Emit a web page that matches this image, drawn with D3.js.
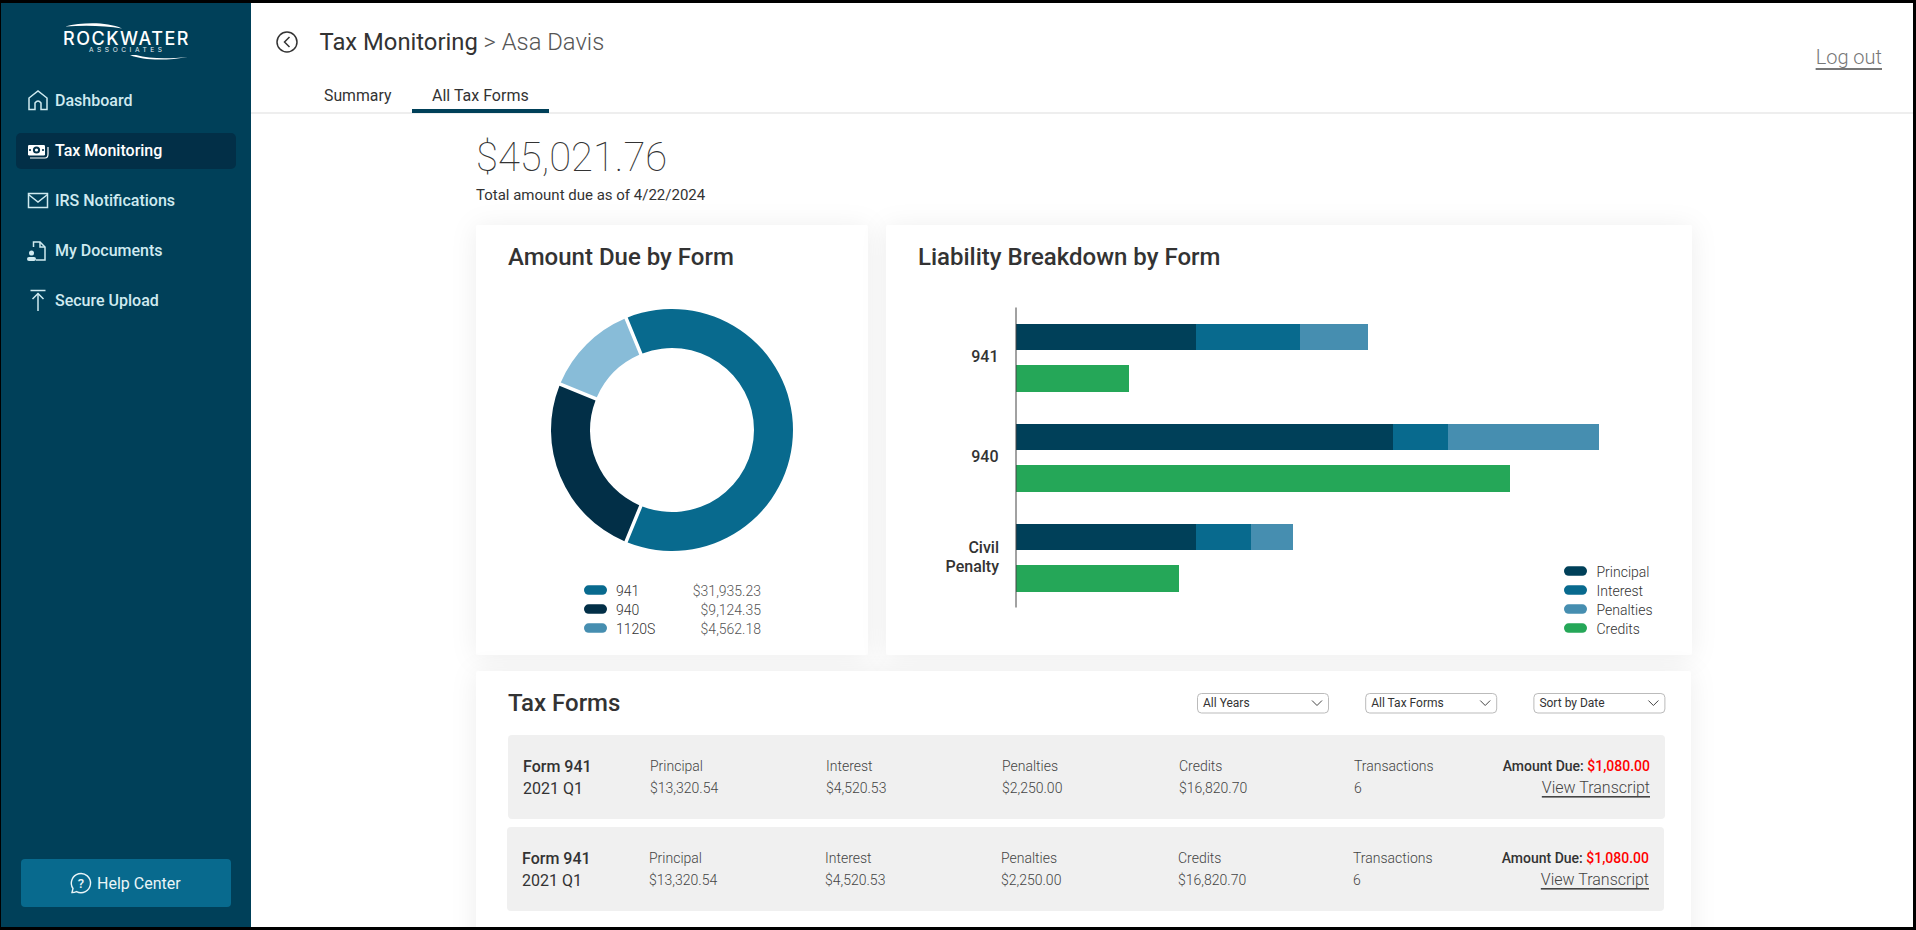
<!DOCTYPE html>
<html><head><meta charset="utf-8"><title>Tax Monitoring</title>
<script src="https://cdnjs.cloudflare.com/ajax/libs/d3/7.8.5/d3.min.js"></script>
<style>
html,body{margin:0;padding:0;background:#fff;overflow:hidden}
svg{display:block}
text{font-family:Roboto,"Liberation Sans",sans-serif}
</style></head><body><svg id="page" width="1916" height="930"></svg>
<script>
// ---- data ----
const navLabels = ["Dashboard","Tax Monitoring","IRS Notifications","My Documents","Secure Upload"];
const donutForms = ["941","940","1120S"];
const donutShares = [62.4,25.0,12.6];
const donutLegendForms = ["941","940","1120S"];
const donutLegendValues = ["$31,935.23","$9,124.35","$4,562.18"];
const barForms = ["941","940","Civil Penalty"];
const principal = [18.05,37.75,18.05];
const interest = [10.4,5.5,5.5];
const penalties = [6.8,15.1,4.2];
const credits = [11.35,49.45,16.35];
const stackNames = ["Principal","Interest","Penalties"];
const legendNames = ["Principal","Interest","Penalties","Credits"];
const filters = ["All Years","All Tax Forms","Sort by Date"];
const rowColumns = ["Principal","Interest","Penalties","Credits","Transactions"];
const rowValues = ["$13,320.54","$4,520.53","$2,250.00","$16,820.70","6"];
const rowForms = ["Form 941","Form 941"];
const rowPeriods = ["2021 Q1","2021 Q1"];
const rowDue = ["$1,080.00","$1,080.00"];

// ---- palette ----
const NAVY="#004059",DEEP="#022f47",TEAL="#086a8e",STEEL="#468eb0",SKY="#88bcd8",GREEN="#25a758",INK="#333333";
const svg=d3.select("#page");
const defs=svg.append("defs");
const sh=defs.append("filter").attr("id","sh").attr("x","-15%").attr("y","-15%").attr("width","130%").attr("height","130%");
sh.append("feDropShadow").attr("dx",0).attr("dy",2).attr("stdDeviation",13).attr("flood-color","#000").attr("flood-opacity",0.07);
function txt(g,x,y,s,o={}){return g.append("text").attr("x",x).attr("y",y).attr("dominant-baseline","central")
  .attr("font-size",o.size||14).attr("font-weight",o.weight||400).attr("fill",o.fill||INK)
  .attr("text-anchor",o.anchor||"start").text(s);}

// ---- sidebar ----
const side=svg.append("g");
side.append("rect").attr("width",251).attr("height",930).attr("fill",NAVY);
side.append("rect").attr("x",16).attr("y",133).attr("width",220).attr("height",36).attr("rx",5).attr("fill",DEEP);
// logo
txt(side,63,38.5,"ROCKWATER",{size:18,weight:500,fill:"#fff"}).style("font-family","Inter").attr("textLength",125.5).attr("lengthAdjust","spacing");
txt(side,89,49.5,"ASSOCIATES",{size:6.6,weight:400,fill:"#e4edf1"}).style("font-family","Inter").attr("textLength",73).attr("lengthAdjust","spacing");
side.append("path").attr("d","M65 26.5 C82 22.5 106 21.5 122 28.5 C105 25.5 85 25 65 26.5Z").attr("fill","#fff");
side.append("path").attr("d","M130 55 C144 61 168 60.5 188 57 C168 59 150 59 136 55Z").attr("fill","#fff");
// nav
const NAVC="#cfeaf0";
const navG=side.selectAll("g.nav").data(navLabels).join("g").attr("class","nav")
  .attr("transform",(d,i)=>`translate(0,${100.5+i*50})`);
navG.append("text").attr("x",55).attr("y",0).attr("dominant-baseline","central").attr("font-size",16)
  .attr("font-weight",500).attr("fill",(d,i)=>i===1?"#fff":NAVC).text(d=>d);
const icon=(i,d,extra)=>{const g=side.append("g").attr("transform",`translate(38,${100+i*50})`).attr("fill","none").attr("stroke",NAVC).attr("stroke-width",1.5);
  d.forEach(p=>g.append("path").attr("d",p));if(extra)extra(g);};
icon(0,["M-9 9.5 V-2 L0 -9 L9 -2 V9.5 H3 V3 Q0 -1 -3 3 V9.5 Z"]);
icon(1,[],g=>{
  g.append("rect").attr("x",-10).attr("y",-5).attr("width",17).attr("height",10.5).attr("rx",1.2).attr("fill","#fff").attr("stroke","none");
  g.append("circle").attr("cx",-1.5).attr("cy",0).attr("r",3.6).attr("fill",DEEP).attr("stroke","none");
  g.append("circle").attr("cx",-1.5).attr("cy",0).attr("r",1.6).attr("fill","#fff").attr("stroke","none");
  g.selectAll("circle.c").data([-8,5]).join("circle").attr("class","c").attr("cx",d=>d).attr("cy",0).attr("r",1.1).attr("fill",DEEP).attr("stroke","none");
  g.append("path").attr("d","M-8 8 H7 Q10 8 10 4 V-3").attr("stroke","#fff").attr("stroke-width",1.2);});
icon(2,["M-9.5 -6.5 H9.5 V7.5 H-9.5 Z","M-9.5 -5.5 L0 2 L9.5 -5.5"]);
icon(3,["M-4.5 -3 V-8 H2 L7 -3 V10 H-2","M2 -8 V-3 H7"],g=>{g.append("circle").attr("cx",-6.5).attr("cy",3).attr("r",2.5).attr("fill",NAVC).attr("stroke","none");
  g.append("rect").attr("x",-11).attr("y",7).attr("width",9).attr("height",4).attr("rx",2).attr("fill",NAVC).attr("stroke","none");});
icon(4,["M-7.5 -9.5 H7.5","M0 11 V-6.5","M-5.5 -1 L0 -6.5 L5.5 -1"]);
// help centre
side.append("rect").attr("x",21).attr("y",859).attr("width",210).attr("height",48).attr("rx",4).attr("fill",TEAL);
const hc=side.append("g").attr("transform","translate(81,883)");
hc.append("path").attr("d","M-9 9.5 L-8 5.5 A9.6 9.6 0 1 1 -4.5 8.6 Q-7 9.6 -9 9.5Z").attr("fill","none").attr("stroke","#eaf5f8").attr("stroke-width",1.4);
txt(hc,0,0,"?",{size:13,weight:500,fill:"#eaf5f8",anchor:"middle"});
txt(side,97,883,"Help Center",{size:16,fill:"#eaf5f8"});

// ---- header ----
const head=svg.append("g");
head.append("rect").attr("x",251).attr("y",112).attr("width",1665).attr("height",2).attr("fill","#eeeeee");
head.append("circle").attr("cx",287).attr("cy",42).attr("r",10).attr("fill","none").attr("stroke","#333").attr("stroke-width",1.5);
head.append("path").attr("d","M289.5 37 L284.5 42 L289.5 47").attr("fill","none").attr("stroke","#333").attr("stroke-width",1.5);
const ttl=txt(head,319.5,42,"",{size:23.8,fill:"#333"});
ttl.append("tspan").text("Tax Monitoring");
ttl.append("tspan").attr("font-weight",300).attr("fill","#555").text(" > Asa Davis");
txt(head,324,95,"Summary",{size:15.8,weight:400,fill:"#333"});
txt(head,432,95,"All Tax Forms",{size:16,weight:400,fill:"#333"});
head.append("rect").attr("x",412).attr("y",109).attr("width",137).attr("height",4).attr("fill",NAVY);
txt(head,1882,57,"Log out",{size:20,weight:300,fill:"#777",anchor:"end"}).attr("text-decoration","underline");
txt(head,476,157,"$45,021.76",{size:40,weight:100,fill:"#333"});
txt(head,476,194.5,"Total amount due as of 4/22/2024",{size:15,weight:400,fill:"#333"});

// ---- cards ----
const cards=svg.append("g");
[[476,225,392,430],[886,225,806,430],[476,671,1215,290]].forEach(c=>{
  cards.append("rect").attr("x",c[0]).attr("y",c[1]).attr("width",c[2]).attr("height",c[3]).attr("rx",3)
   .attr("fill","#fff").attr("filter","url(#sh)");});
txt(cards,508,257,"Amount Due by Form",{size:24,weight:500,fill:"#333"});
txt(cards,918,257,"Liability Breakdown by Form",{size:24,weight:500,fill:"#333"});
txt(cards,508,703,"Tax Forms",{size:24,weight:500,fill:"#333"});

// ---- donut ----
const deg=Math.PI/180;
const donutColor=d3.scaleOrdinal().domain(donutForms).range([TEAL,DEEP,SKY]);
const pie=d3.pie().sort(null).value(d=>d.v).startAngle(-22.3*deg).endAngle(337.7*deg);
const arc=d3.arc().innerRadius(82).outerRadius(121).padRadius(121).padAngle(3.5/121);
svg.append("g").attr("transform","translate(672,430)").selectAll("path")
  .data(pie(donutForms.map((f,i)=>({f,v:donutShares[i]})))).join("path")
  .attr("d",arc).attr("fill",d=>donutColor(d.data.f));
const dl=svg.append("g").selectAll("g").data(donutLegendForms).join("g")
  .attr("transform",(d,i)=>`translate(584,${590+i*19})`);
const dlColor=[TEAL,DEEP,STEEL];
dl.append("rect").attr("y",-4.7).attr("width",23).attr("height",9.5).attr("rx",4.7).attr("fill",(d,i)=>dlColor[i]);
dl.append("text").attr("x",32).attr("y",.8).attr("dominant-baseline","central").attr("font-size",14).attr("font-weight",300).attr("fill","#333").text(d=>d);
dl.append("text").attr("x",177).attr("y",.8).attr("text-anchor","end").attr("dominant-baseline","central").attr("font-size",14).attr("font-weight",300).attr("fill","#555").text((d,i)=>donutLegendValues[i]);

// ---- bars ----
const x=d3.scaleLinear().domain([0,60]).range([1015.5,1615.5]);
const y=d3.scaleBand().domain(barForms).range([307,607]);
const rowY=d3.scaleOrdinal().domain(["stack","credit"]).range([17,58]);
const rowH=d3.scaleOrdinal().domain(["stack","credit"]).range([26,27]);
const stack=d3.stack().keys(stackNames)(barForms.map((f,i)=>({form:f,Principal:principal[i],Interest:interest[i],Penalties:penalties[i]})));
const barColor=d3.scaleOrdinal().domain(legendNames).range([NAVY,TEAL,STEEL,GREEN]);
const bars=svg.append("g").attr("shape-rendering","crispEdges");
bars.selectAll("g").data(stack).join("g").attr("fill",s=>barColor(s.key))
  .selectAll("rect").data(s=>s).join("rect")
  .attr("x",d=>x(d[0])).attr("width",d=>x(d[1])-x(d[0]))
  .attr("y",d=>y(d.data.form)+rowY("stack")).attr("height",rowH("stack"));
bars.append("g").selectAll("rect").data(barForms).join("rect").attr("fill",barColor("Credits"))
  .attr("x",x(0)).attr("width",(d,i)=>x(credits[i])-x(0))
  .attr("y",d=>y(d)+rowY("credit")).attr("height",rowH("credit"));
const ax=svg.append("g").attr("transform",`translate(${x(0)},0)`).call(d3.axisLeft(y).tickSize(0).tickSizeOuter(0).tickPadding(17));
ax.select(".domain").attr("stroke","#444").attr("stroke-width",1);
ax.selectAll("text").attr("font-family","Roboto").attr("font-size",16).attr("font-weight",500).attr("fill","#333")
  .each(function(d){const t=d3.select(this),w=d.split(" ");if(w.length<2)return;t.text(null);
    w.forEach((s,i)=>t.append("tspan").attr("x",-16.5).attr("dy",i?"1.2em":"-0.25em").text(s));});
const bl=svg.append("g").selectAll("g").data(legendNames).join("g")
  .attr("transform",(d,i)=>`translate(1564,${571+i*19})`);
bl.append("rect").attr("y",-4.7).attr("width",23).attr("height",9.5).attr("rx",4.7).attr("fill",d=>barColor(d));
bl.append("text").attr("x",32.5).attr("y",.8).attr("dominant-baseline","central").attr("font-size",14).attr("font-weight",300).attr("fill","#333").text(d=>d);

// ---- filters ----
const fg=svg.append("g").selectAll("g").data(filters).join("g")
  .attr("transform",(d,i)=>`translate(${1197+i*168.2},693)`);
fg.append("rect").attr("x",.5).attr("y",.5).attr("width",131).attr("height",19.5).attr("rx",4).attr("fill","#fff").attr("stroke","#bbb");
fg.append("text").attr("x",6).attr("y",10).attr("dominant-baseline","central").attr("font-size",12).attr("fill","#333").text(d=>d);
fg.append("path").attr("d","M115 7.5 L120 12.5 L125 7.5").attr("fill","none").attr("stroke","#444").attr("stroke-width",1);

// ---- rows ----
const rows=svg.append("g").selectAll("g").data(rowForms).join("g")
  .attr("transform",(d,i)=>`translate(${-i},${i*92})`);
rows.append("rect").attr("x",508).attr("y",735).attr("width",1157).attr("height",84).attr("rx",4).attr("fill","#f0f0f0");
rows.append("text").attr("x",523).attr("y",766).attr("dominant-baseline","central").attr("font-size",16).attr("font-weight",500).attr("fill","#333").text(d=>d);
rows.append("text").attr("x",523).attr("y",788).attr("dominant-baseline","central").attr("font-size",16).attr("fill","#333").text((d,i)=>rowPeriods[i]);
const colX=[650,826,1002,1179,1354];
rows.each(function(){const r=d3.select(this);
  rowColumns.forEach((c,i)=>{txt(r,colX[i],766,c,{size:14,weight:300,fill:"#444"});txt(r,colX[i],788,rowValues[i],{size:14,weight:300,fill:"#444"});});});
rows.each(function(d,i){const t=txt(d3.select(this),1650,766,"",{size:14,anchor:"end"});
  t.append("tspan").attr("font-weight",500).attr("fill","#333").text("Amount Due: ");
  t.append("tspan").attr("font-weight",500).attr("fill","#ff0000").text(rowDue[i]);
  txt(d3.select(this),1650,787.5,"View Transcript",{size:16,weight:300,fill:"#444",anchor:"end"}).attr("text-decoration","underline");});

// ---- black frame ----
const frame=svg.append("g").attr("fill","#000");
frame.append("rect").attr("width",1916).attr("height",3);
frame.append("rect").attr("y",927).attr("width",1916).attr("height",3);
frame.append("rect").attr("width",1).attr("height",930);
frame.append("rect").attr("x",1913).attr("width",3).attr("height",930);
</script></body></html>
